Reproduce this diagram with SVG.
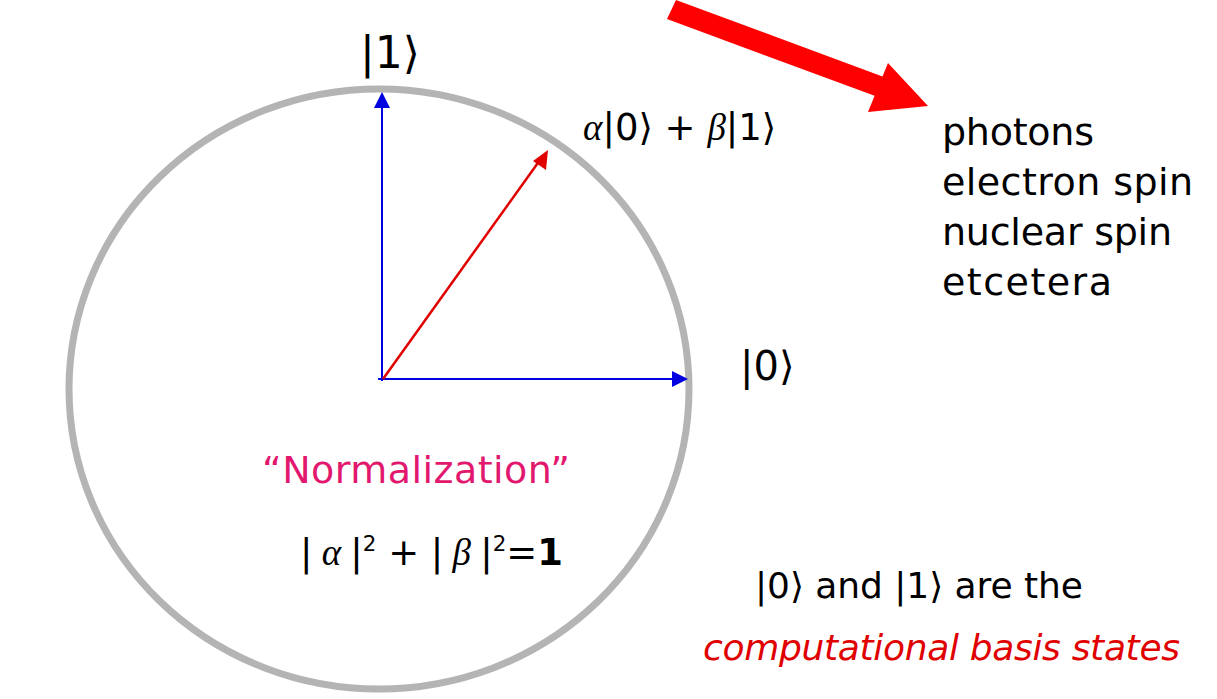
<svg xmlns="http://www.w3.org/2000/svg" width="1217" height="699" viewBox="0 0 1217 699">
<style>
.k{font-family:"DejaVu Sans","Liberation Sans",sans-serif;fill:#000}
.m{font-family:"Liberation Serif",serif;font-style:italic;fill:#000}
.t{font-family:"DejaVu Sans","Liberation Sans",sans-serif;fill:#000;font-size:38px}
</style>
<rect width="1217" height="699" fill="#fff"/>
<g id="circle"><ellipse cx="379" cy="389" rx="310" ry="300" fill="none" stroke="#b4b4b4" stroke-width="7"/></g>
<g id="connectors">
<line x1="382" y1="381" x2="382" y2="108" stroke="#0000e0" stroke-width="2"/>
<polygon points="382,92 374,108 390,108" fill="#0000e0"/>
<line x1="378" y1="379" x2="672" y2="379" stroke="#0000e0" stroke-width="2"/>
<polygon points="688,379 672,371 672,387" fill="#0000e0"/>
<line x1="383" y1="379" x2="540" y2="160" stroke="#e00000" stroke-width="2.5"/>
<polygon points="548,150 546,170 533,161" fill="#e00000"/>
<polygon points="676,0 882.5,76.4 888,63 928,106 868,112 874.6,95.8 667,19" fill="#f00"/>
</g>
<g id="ket1"><text x="360" y="68" class="k" font-size="44">|1⟩</text></g>
<g id="ket0"><text x="740" y="380" class="k" font-size="40">|0⟩</text></g>
<g id="superposition"><text x="583" y="140" font-size="37"><tspan class="m">α</tspan><tspan class="k">|0⟩ + </tspan><tspan class="m">β</tspan><tspan class="k">|1⟩</tspan></text></g>
<g id="systems">
<text x="942" y="145" class="t" textLength="152">photons</text>
<text x="942" y="195" class="t" textLength="251">electron spin</text>
<text x="942" y="245" class="t" textLength="230">nuclear spin</text>
<text x="942" y="295" class="t" textLength="170">etcetera</text>
</g>
<g id="normalization">
<text x="262" y="483" font-family="DejaVu Sans, sans-serif" font-size="38" fill="#e2186e" textLength="308">“Normalization”</text>
<text x="300" y="565" font-size="38" textLength="263" lengthAdjust="spacingAndGlyphs"><tspan class="k">|</tspan><tspan class="m"> α </tspan><tspan class="k">|</tspan><tspan class="k" font-size="22" dy="-14">2</tspan><tspan class="k" dy="14"> + |</tspan><tspan class="m"> β </tspan><tspan class="k">|</tspan><tspan class="k" font-size="22" dy="-14">2</tspan><tspan class="k" dy="14">=</tspan><tspan class="k" font-weight="bold">1</tspan></text>
</g>
<g id="basis">
<text x="755" y="598" class="k" font-size="36" textLength="328">|0⟩ and |1⟩ are the</text>
<text x="703" y="660" font-family="DejaVu Sans, sans-serif" font-style="italic" font-size="36" fill="#e00000" textLength="477">computational basis states</text>
</g>
</svg>
